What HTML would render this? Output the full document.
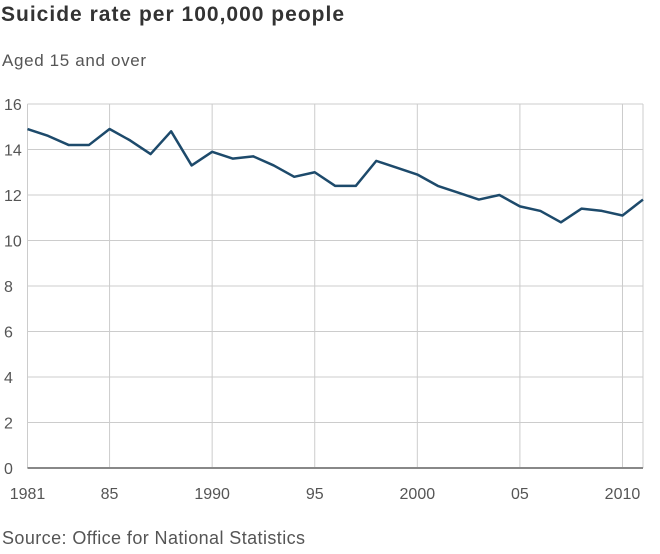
<!DOCTYPE html>
<html><head><meta charset="utf-8"><style>
body{margin:0;background:#fff;font-family:"Liberation Sans",sans-serif;}
</style></head><body>
<svg id="c" width="660" height="549">
<text x="1" y="21" font-size="21" font-weight="bold" fill="#333" textLength="343">Suicide rate per 100,000 people</text>
<text x="2" y="66" font-size="17" fill="#555" textLength="144">Aged 15 and over</text>
<text x="2" y="544" font-size="18" fill="#555" textLength="303">Source: Office for National Statistics</text>
<g id="grid"></g><g id="series"></g>
</svg>
<script>
const years=[1981,1982,1983,1984,1985,1986,1987,1988,1989,1990,1991,1992,1993,1994,1995,1996,1997,1998,1999,2000,2001,2002,2003,2004,2005,2006,2007,2008,2009,2010,2011];
const rates=[14.9,14.6,14.2,14.2,14.9,14.4,13.8,14.8,13.3,13.9,13.6,13.7,13.3,12.8,13.0,12.4,12.4,13.5,13.2,12.9,12.4,12.1,11.8,12.0,11.5,11.3,10.8,11.4,11.3,11.1,11.8];
const yTicks=[0,2,4,6,8,10,12,14,16];
const xTicks=[1981,1985,1990,1995,2000,2005,2010];
const xTickLabels=["1981","85","1990","95","2000","05","2010"];
const NS="http://www.w3.org/2000/svg";
const L=27.5,R=643,T=104,B=468;
const x=v=>L+(v-1981)/(2011-1981)*(R-L);
const y=v=>B-v/16*(B-T);
const g=document.getElementById('grid'),s=document.getElementById('series');
function mk(tag,attrs,parent){const e=document.createElementNS(NS,tag);for(const k in attrs)e.setAttribute(k,attrs[k]);parent.appendChild(e);return e;}
yTicks.forEach(t=>{
  const ln=mk('line',{x1:L,x2:R,y1:y(t),y2:y(t),stroke:'#ccc','stroke-width':1},g);
  
  
  const tx=mk('text',{x:4,y:y(t)+6,'font-size':16,fill:'#555'},g);tx.textContent=t;
  
  
});
xTicks.forEach((t,i)=>{
  const ln=mk('line',{x1:x(t),x2:x(t),y1:T,y2:B,stroke:'#ccc','stroke-width':1},g);
  
  
  const tx=mk('text',{x:x(t),y:499,'font-size':16,fill:'#555','text-anchor':'middle'},g);tx.textContent=xTickLabels[i];
  
  
});
const rb=mk('line',{x1:R,x2:R,y1:T,y2:B,stroke:'#ccc','stroke-width':1},g);


const base=mk('line',{x1:L,x2:R,y1:B,y2:B,stroke:'#888','stroke-width':2},g);


const p=mk('polyline',{points:years.map((yr,i)=>x(yr)+','+y(rates[i])).join(' '),fill:'none',stroke:'#1d4a6b','stroke-width':2.5,'stroke-linejoin':'round'},s);


</script>
</body></html>
